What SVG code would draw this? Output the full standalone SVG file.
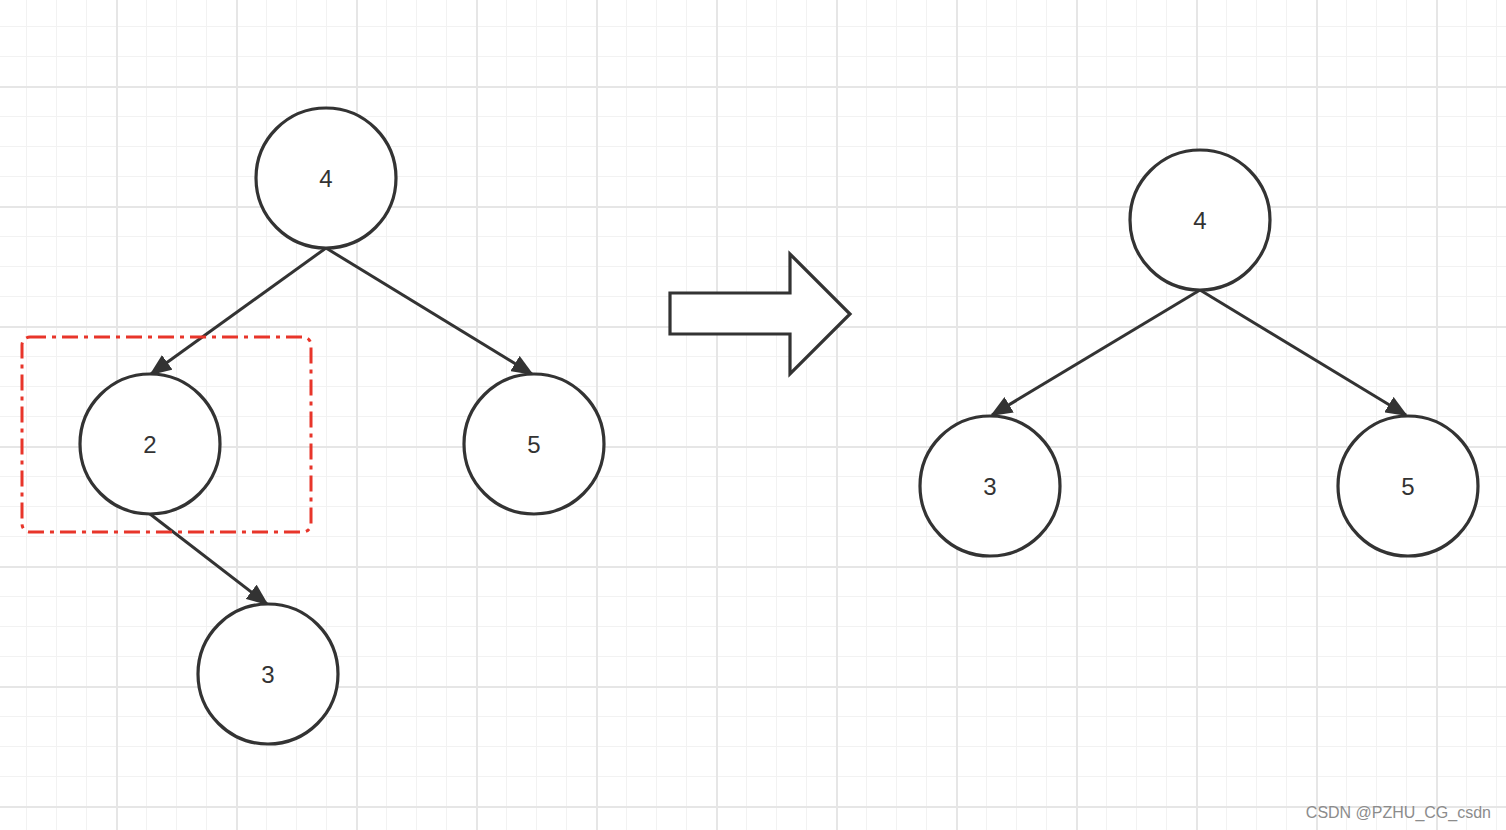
<svg xmlns="http://www.w3.org/2000/svg" width="1506" height="830" viewBox="0 0 1506 830">
<defs>
<pattern id="minor" x="26" y="26" width="30" height="30" patternUnits="userSpaceOnUse">
<path d="M0 0 V30 M0 0 H30" fill="none" stroke="#f2f2f2" stroke-width="2"/>
</pattern>
<pattern id="major" x="116" y="86" width="120" height="120" patternUnits="userSpaceOnUse">
<path d="M1 0 V120 M0 1 H120" fill="none" stroke="#e6e6e6" stroke-width="2"/>
</pattern>
<marker id="arr" viewBox="0 0 22 18" refX="20" refY="9" markerWidth="22" markerHeight="18" markerUnits="userSpaceOnUse" orient="auto">
<path d="M0 0 L22 9 L0 18 Z" fill="#333"/>
</marker>
<style>
.node circle{fill:#fff;stroke:#333;stroke-width:3.2}
.node text{font-family:"Liberation Sans",Arial,sans-serif;font-size:24px;fill:#333;text-anchor:middle;dominant-baseline:central}
.edge{stroke:#333;stroke-width:3;fill:none;marker-end:url(#arr)}
</style>
</defs>
<rect width="1506" height="830" fill="#fff"/>
<rect width="1506" height="830" fill="url(#minor)"/>
<rect width="1506" height="830" fill="url(#major)"/>

<g id="connectors">
<line class="edge" x1="326" y1="248" x2="151" y2="374"/>
<line class="edge" x1="326" y1="248" x2="532" y2="374"/>
<line class="edge" x1="150" y1="514" x2="267" y2="604"/>
<line class="edge" x1="1200" y1="290" x2="992" y2="415"/>
<line class="edge" x1="1200" y1="290" x2="1406" y2="415"/>
</g>

<rect id="highlight" x="22" y="337" width="289" height="195" rx="8" fill="none" stroke="#e8352a" stroke-width="3" stroke-dasharray="16 6 4 6"/>

<g id="node-l4" class="node"><circle cx="326" cy="178" r="70"/><text x="326" y="178">4</text></g>
<g id="node-l2" class="node"><circle cx="150" cy="444" r="70"/><text x="150" y="444">2</text></g>
<g id="node-l5" class="node"><circle cx="534" cy="444" r="70"/><text x="534" y="444">5</text></g>
<g id="node-l3" class="node"><circle cx="268" cy="674" r="70"/><text x="268" y="674">3</text></g>

<g id="big-arrow"><polygon points="670,293 790,293 790,254 850,314 790,374 790,334 670,334" fill="#fff" stroke="#333" stroke-width="3.2" stroke-linejoin="miter"/></g>

<g id="node-r4" class="node"><circle cx="1200" cy="220" r="70"/><text x="1200" y="220">4</text></g>
<g id="node-r3" class="node"><circle cx="990" cy="486" r="70"/><text x="990" y="486">3</text></g>
<g id="node-r5" class="node"><circle cx="1408" cy="486" r="70"/><text x="1408" y="486">5</text></g>

<text x="1491" y="818" font-family="'Liberation Sans',Arial,sans-serif" font-size="16" fill="#8c8c8c" text-anchor="end">CSDN @PZHU_CG_csdn</text>
</svg>
